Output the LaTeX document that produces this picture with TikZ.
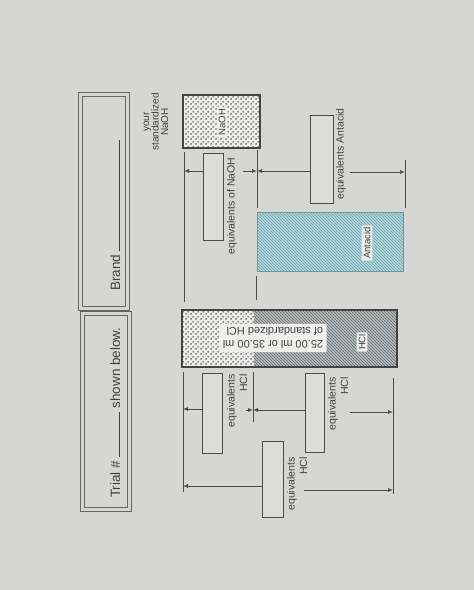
\documentclass[tikz,border=0pt]{standalone}
\usepackage{fontspec}
\setmainfont{Liberation Sans}
\usetikzlibrary{patterns,arrows.meta}
\definecolor{paper}{RGB}{214,214,210}
\definecolor{inkc}{RGB}{75,75,75}
\definecolor{txtc}{RGB}{65,65,65}
\definecolor{dotbg}{RGB}{236,236,234}
\definecolor{dotc}{RGB}{95,95,95}
\definecolor{tealbg}{RGB}{178,214,218}
\definecolor{tealln}{RGB}{110,165,172}
\definecolor{tealedge}{RGB}{115,150,155}
\definecolor{hclbg}{RGB}{180,186,188}
\definecolor{hclln}{RGB}{105,112,115}
\definecolor{labbg}{RGB}{238,238,236}
\definecolor{eqfill}{RGB}{220,220,217}
\pgfdeclarepatternformonly{mydots}{\pgfqpoint{0pt}{0pt}}{\pgfqpoint{5pt}{5pt}}{\pgfqpoint{5pt}{5pt}}{%
  \pgfpathcircle{\pgfqpoint{1.25pt}{1.25pt}}{1.05pt}%
  \pgfpathcircle{\pgfqpoint{3.75pt}{3.75pt}}{1.05pt}%
  \pgfusepath{fill}}
\begin{document}
\begin{tikzpicture}[x=1pt,y=-1pt,
  hdr/.style={draw=inkc!85, line width=0.9pt},
  hdrtext/.style={rotate=90, text=txtc, font=\fontsize{13.5}{16}\selectfont, inner sep=0pt},
  boxline/.style={draw=inkc!90!black, line width=1.2pt},
  ln/.style={draw=inkc, line width=0.9pt},
  arr/.style={draw=inkc, line width=0.9pt, -{Latex[length=5pt,width=4pt]}},
  eqbox/.style={draw=inkc, line width=1pt, fill=eqfill, inner sep=0pt, anchor=north west},
  eqtxt/.style={rotate=90, text=txtc, font=\fontsize{10.5}{12.5}\selectfont, inner sep=1pt},
  lab/.style={fill=labbg, rounded corners=1pt, inner sep=1.8pt, text=txtc, font=\fontsize{9.5}{11}\selectfont}
]
\fill[paper] (0,0) rectangle (474,590);
\useasboundingbox (0,0) rectangle (474,590);

% header boxes
\draw[hdr] (78,92) rectangle (129,310);
\draw[hdr] (82,96) rectangle (125,306);
\draw[hdr] (80,311) rectangle (131,511);
\draw[hdr] (84,315) rectangle (127,507);
\node[hdrtext, anchor=base west] (brand) at (120,291) {Brand \rule{111pt}{0.6pt}};
\node[hdrtext, anchor=base west] (trial) at (120,498) {Trial \# \rule{45pt}{0.6pt} shown below.};

% your standardized NaOH
\node[rotate=90, align=center, text=txtc, font=\fontsize{10}{9.5}\selectfont, inner sep=0pt] (your) at (156,122) {your\\standardized\\NaOH};

% NaOH box
\draw[boxline, preaction={fill=dotbg}, pattern=mydots, pattern color=dotc] (183,95) rectangle (260,148);
\node[lab, rotate=90] (naohlab) at (222,122) {NaOH};

% Antacid box
\draw[draw=tealedge, line width=1pt, preaction={fill=tealbg}, pattern=north west lines, pattern color=tealln] (257,212) rectangle (403,271);
\node[lab, rotate=90] (antlab) at (367,243) {Antacid};

% HCl box
\fill[dotbg] (182,310) rectangle (254,367);
\fill[pattern=mydots, pattern color=dotc] (182,310) rectangle (254,367);
\fill[hclbg] (254,310) rectangle (397,367);
\fill[pattern=north west lines, pattern color=hclln] (254,310) rectangle (397,367);
\draw[boxline] (182,310) rectangle (397,367);
\node[lab, rotate=180, align=left, inner sep=3.5pt, font=\fontsize{11}{13}\selectfont] (hcltxt) at (273,338) {25.00 ml or 35.00 ml\\of standardized HCl};
\node[lab, rotate=90] (hcllab) at (362,342) {HCl};

% equivalents boxes
\node[eqbox, minimum width=20pt, minimum height=87pt] (eqN) at (203,153) {};
\node[eqbox, minimum width=23pt, minimum height=88pt] (eqA) at (310,115) {};
\node[eqbox, minimum width=20pt, minimum height=80pt] (eqH1) at (202,373) {};
\node[eqbox, minimum width=19pt, minimum height=79pt] (eqH2) at (305,373) {};
\node[eqbox, minimum width=21pt, minimum height=76pt] (eqH3) at (262,441) {};

% equivalents texts
\node[eqtxt] (eqNt) at (232,206) {equivalents of NaOH};
\node[eqtxt] (eqAt) at (341,154) {equivalents Antacid};
\node[eqtxt, align=right] (eqH1t) at (237,401) {equivalents\\HCl\hspace{4pt}};
\node[eqtxt, align=right] (eqH2t) at (338,404) {equivalents\\HCl\hspace{4pt}};
\node[eqtxt, align=right] (eqH3t) at (297,484) {equivalents\\HCl\hspace{4pt}};

% extension lines
\draw[ln] (184,152) -- (184,302);
\draw[ln] (257,150) -- (257,208);
\draw[ln] (405,160) -- (405,208);
\draw[ln] (256,276) -- (256,300);
\draw[ln] (183,372) -- (183,492);
\draw[ln] (253,372) -- (253,422);
\draw[ln] (393,378) -- (393,494);

% top dimension
\coordinate (tL) at (184,171);
\coordinate (tM) at (257,171);
\coordinate (tMa) at (243,171);
\coordinate (tRa) at (350,172);
\coordinate (tR) at (405,172);
\draw[arr] (eqN.west |- tL) -- (tL);
\draw[arr] (tMa) -- (tM);
\draw[arr] (eqA.west |- tM) -- (tM);
\draw[arr] (tRa) -- (tR);

% middle dimension
\coordinate (mL) at (183,409);
\coordinate (mM) at (253,410);
\coordinate (mMa) at (246,410);
\coordinate (mRa) at (350,412);
\coordinate (mR) at (393,412);
\draw[arr] (eqH1.west |- mL) -- (mL);
\draw[arr] (mMa) -- (mM);
\draw[arr] (eqH2.west |- mM) -- (mM);
\draw[arr] (mRa) -- (mR);

% bottom dimension
\coordinate (bL) at (183,486);
\coordinate (bRa) at (304,490);
\coordinate (bR) at (393,490);
\draw[arr] (eqH3.west |- bL) -- (bL);
\draw[arr] (bRa) -- (bR);
\end{tikzpicture}
\end{document}
